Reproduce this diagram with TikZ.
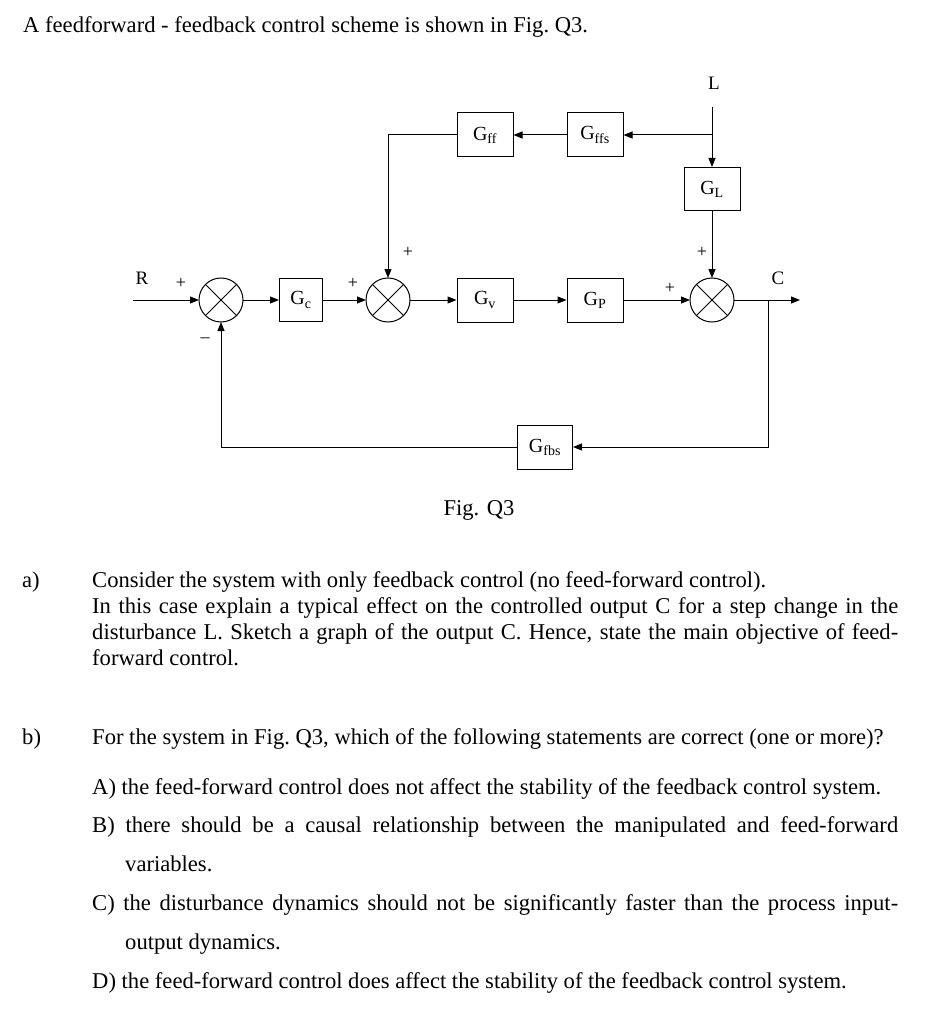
\documentclass[tikz,border=0pt]{standalone}
\usepackage{fontspec}
\setmainfont{Liberation Serif}
\usetikzlibrary{arrows.meta}

\tikzset{
  blk/.style={draw, line width=1pt, minimum width=56pt, minimum height=44pt, inner sep=0pt, font=\fontsize{20}{20}\selectfont},
  sumj/.style={draw, circle, line width=1pt, minimum size=44pt, inner sep=0pt, outer sep=0pt},
  sig/.style={line width=1pt, -{Triangle[length=9pt,width=7pt]}},
  sgn/.style={inner sep=0pt, font=\fontsize{18}{18}\selectfont},
  lbl/.style={inner sep=0pt, font=\fontsize{19}{19}\selectfont},
  txt/.style={anchor=base west, inner sep=0pt, font=\fontsize{22.6}{26.3}\selectfont}
}

\begin{document}
\begin{tikzpicture}[x=1pt,y=-1pt]
\useasboundingbox (0,0) rectangle (931,1024);

% question header
\node[txt] (title) at (23,33) {A feedforward - feedback control scheme is shown in Fig.~Q3.};

% blocks
\node[sumj] (sum1) at (221,300) {};
\node[blk, minimum width=43pt, minimum height=43pt] (Gc) at (301,300) {G\textsubscript{c}};
\node[sumj] (sum2) at (388,300) {};
\node[blk] (Gv) at (485,300) {G\textsubscript{v}};
\node[blk] (Gp) at (595,300) {G\textsubscript{P}};
\node[sumj] (sum3) at (712,300) {};
\node[blk] (Gff) at (485,135) {G\textsubscript{ff}};
\node[blk] (Gffs) at (595,135) {G\textsubscript{ffs}};
\node[blk, minimum height=43pt] (GL) at (712,189) {G\textsubscript{L}};
\node[blk, minimum width=55pt] (Gfbs) at (545,447) {G\textsubscript{fbs}};
\foreach \s in {sum1,sum2,sum3}
  \draw[line width=1pt] (\s.north west) -- (\s.south east) (\s.north east) -- (\s.south west);

\coordinate (Rin) at (133,300);
\coordinate (Cout) at (800,300);
\coordinate (brC) at (768,300);
\coordinate (Lin) at (712,107);
\coordinate (brL) at (712,135);

% forward path
\draw[sig] (Rin) -- (sum1.west);
\draw[sig] (sum1.east) -- (Gc.west);
\draw[sig] (Gc.east) -- (sum2.west);
\draw[sig] (sum2.east) -- (Gv.west);
\draw[sig] (Gv.east) -- (Gp.west);
\draw[sig] (Gp.east) -- (sum3.west);
\draw[sig] (sum3.east) -- (Cout);
% feedback
\draw[sig] (brC) |- (Gfbs.east);
\draw[sig] (Gfbs.west) -| (sum1.south);
% disturbance and feedforward
\draw[sig] (Lin) -- (GL.north);
\draw[sig] (brL) -- (Gffs.east);
\draw[sig] (Gffs.west) -- (Gff.east);
\draw[sig] (Gff.west) -| (sum2.north);
\draw[sig] (GL.south) -- (sum3.north);

% signal labels
\node[lbl] (R) at (142,278) {R};
\node[lbl] (C) at (778,278) {C};
\node[lbl] (L) at (714,83) {L};
\node[sgn] (p1) at (181,283) {+};
\node[sgn] (m1) at (205,340) {–};
\node[sgn] (p2) at (353,283) {+};
\node[sgn] (p3) at (408,252) {+};
\node[sgn] (p4) at (670,288) {+};
\node[sgn] (p5) at (702,252) {+};

\node[txt, anchor=base] (figlbl) at (479,515) {Fig. Q3};

% part a)
\node[txt] (qa) at (22,587) {a)};
\node[txt] (qatext) at (92,587) {\parbox[t]{806pt}{Consider the system with only feedback control (no feed-forward control).\\
In this case explain a typical effect on the controlled output C for a step change in the\linebreak
disturbance L. Sketch a graph of the output C. Hence, state the main objective of feed-\linebreak
forward control.}};

% part b)
\node[txt] (qb) at (22,744) {b)};
\node[txt] (qbtext) at (92,744) {For the system in Fig.~Q3, which of the following statements are correct (one or more)?};
\node[txt] (opts) at (92,794) {\parbox[t]{806pt}{\baselineskip=38.8pt
\hangindent=33pt\hangafter=1 A) the feed-forward control does not affect the stability of the feedback control system.\par
\hangindent=33pt\hangafter=1 B) there should be a causal relationship between the manipulated and feed-forward\linebreak
variables.\par
\hangindent=33pt\hangafter=1 C) the disturbance dynamics should not be significantly faster than the process input-\linebreak
output dynamics.\par
\hangindent=33pt\hangafter=1 D) the feed-forward control does affect the stability of the feedback control system.}};
\end{tikzpicture}
\end{document}
